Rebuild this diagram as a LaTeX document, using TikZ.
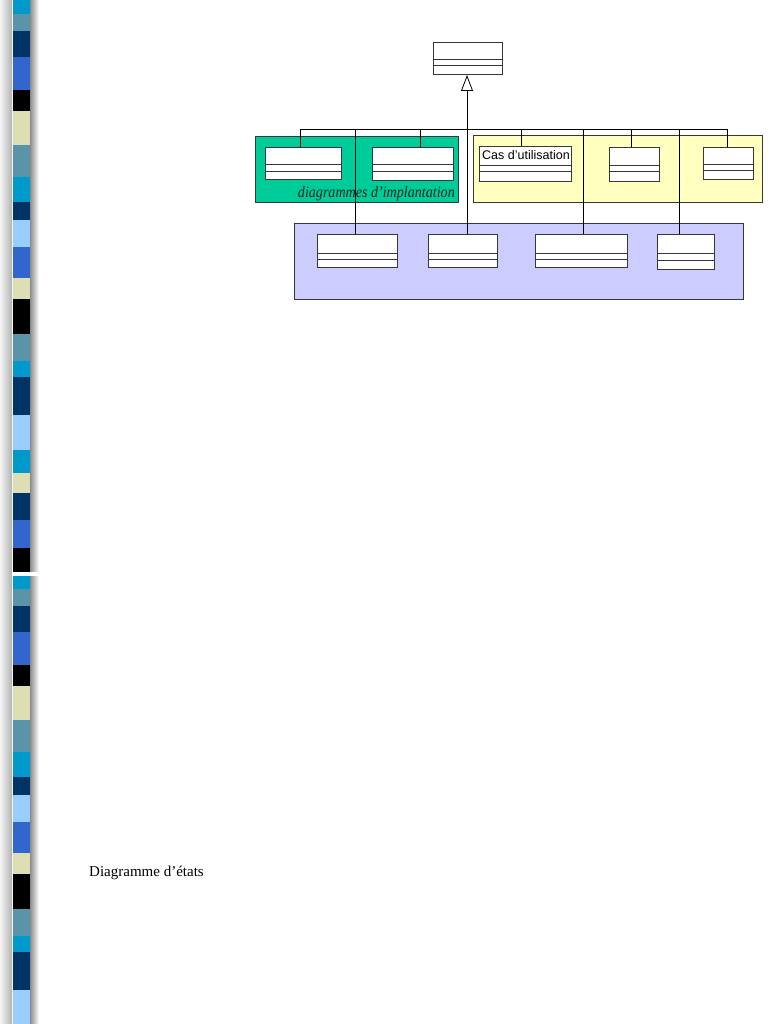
\documentclass[tikz,border=0pt]{standalone}
\usepackage{fontspec}
\setmainfont{Liberation Serif}
\newfontfamily\arialf{Liberation Sans}
\usetikzlibrary{arrows.meta}
\definecolor{scyan}{RGB}{0,153,204}
\definecolor{ssteel}{RGB}{91,147,169}
\definecolor{snavy}{RGB}{0,51,102}
\definecolor{sroyal}{RGB}{51,102,204}
\definecolor{sbeige}{RGB}{222,222,180}
\definecolor{slight}{RGB}{153,204,255}
\definecolor{pgreen}{RGB}{0,204,153}
\definecolor{pyellow}{RGB}{255,255,192}
\definecolor{pviolet}{RGB}{204,204,255}
\definecolor{boxline}{RGB}{55,55,55}
\definecolor{lbltext}{RGB}{10,40,30}
\tikzset{
  cls/.style={draw=boxline, fill=white, line width=1pt, inner sep=0pt, anchor=north west},
  clsline/.style={draw=boxline, line width=1pt},
  pkg/.style={draw=boxline, line width=0.8pt, inner sep=0pt, anchor=north west},
  conn/.style={draw=black, line width=0.8pt},
}
\newcommand\umlcls[7]{%
  \node[cls, minimum width={#4-#2}, minimum height={#5-#3}] (#1) at (#2,#3) {};
  \draw[clsline] (#2,#6) -- (#4,#6);
  \draw[clsline] (#2,#7) -- (#4,#7);}
\begin{document}
\begin{tikzpicture}[x=1pt,y=-1pt]
\useasboundingbox (0,0) rectangle (768,1024);
\clip (0,0) rectangle (768,1024);
\fill[white] (0,0) rectangle (768,1024);
% left border shading
\shade[left color=white!96!black, right color=black!30] (0,0) rectangle (12,1024);
\shade[left color=black!45, right color=white] (30,0) rectangle (39,1024);
% stripes
\foreach \off in {0,575}{
  \foreach \a/\b/\c in {0/14/scyan,14/31/ssteel,31/57/snavy,57/90/sroyal,90/111/black,
    111/145/sbeige,145/177/ssteel,177/202/scyan,202/220/snavy,220/247/slight,
    247/278/sroyal,278/299/sbeige,299/334/black,334/361/ssteel,361/377/scyan,
    377/415/snavy,415/450/slight,450/473/scyan,473/493/sbeige,493/520/snavy,
    520/548/sroyal,548/572/black}{
    \fill[\c] (12.5,\off+\a) rectangle (30,\off+\b);
  }
}
\fill[white] (12,572) rectangle (39,575.5);
% packages
\node[pkg, fill=pgreen, minimum width=203, minimum height=66] (pg) at (255,136) {};
\node[pkg, fill=pyellow, minimum width=289, minimum height=67] (py) at (473,135) {};
\node[pkg, fill=pviolet, minimum width=449, minimum height=76] (pv) at (294,223) {};
\node[anchor=base east, inner sep=0pt, text=lbltext,
  font=\itshape\fontsize{16}{18}\selectfont] (lg) at (455,198) {\scalebox{0.88}[1]{diagrammes d’implantation}};
% top class
\umlcls{top}{433}{42}{502}{74}{60}{66}
% bus coordinates
\coordinate (busA) at (300,129);
\coordinate (busB) at (355,129);
\coordinate (busC) at (420,129);
\coordinate (busD) at (467,129);
\coordinate (busE) at (521,129);
\coordinate (busF) at (583,129);
\coordinate (busG) at (631,129);
\coordinate (busH) at (679,129);
\coordinate (busI) at (727,129);
\draw[conn] (busA) -- (busI);
\draw[conn, -{Triangle[open, length=16pt, width=12pt, line width=0.8pt]}] (busD) -- (busD |- top.south);
% classes
\umlcls{g1}{265}{147}{341}{179}{165}{172}
\umlcls{g2}{372}{147}{453}{180}{165}{172}
\umlcls{y1}{479}{146}{571}{181}{166}{172}
\umlcls{y2}{609}{147}{659}{181}{166}{172}
\umlcls{y3}{703}{147}{753}{179}{165}{171}
\umlcls{b1}{317}{234}{397}{267}{253}{259}
\umlcls{b2}{428}{234}{497}{267}{253}{259}
\umlcls{b3}{535}{234}{627}{267}{253}{259}
\umlcls{b4}{657}{234}{714}{269}{253}{260}
\node[anchor=base west, inner sep=0pt, font=\arialf\fontsize{12.5}{14}\selectfont] (cu) at (482,159.5) {Cas d’utilisation};
% drops
\draw[conn] (busA) -- (busA |- g1.north);
\draw[conn] (busC) -- (busC |- g2.north);
\draw[conn] (busE) -- (busE |- y1.north);
\draw[conn] (busG) -- (busG |- y2.north);
\draw[conn] (busI) -- (busI |- y3.north);
\draw[conn] (busB) -- (busB |- b1.north);
\draw[conn] (busD) -- (busD |- b2.north);
\draw[conn] (busF) -- (busF |- b3.north);
\draw[conn] (busH) -- (busH |- b4.north);
% caption
\node[anchor=base west, inner sep=0pt, font=\fontsize{15}{17}\selectfont] (cap) at (89,876) {Diagramme d’états};
\end{tikzpicture}
\end{document}
